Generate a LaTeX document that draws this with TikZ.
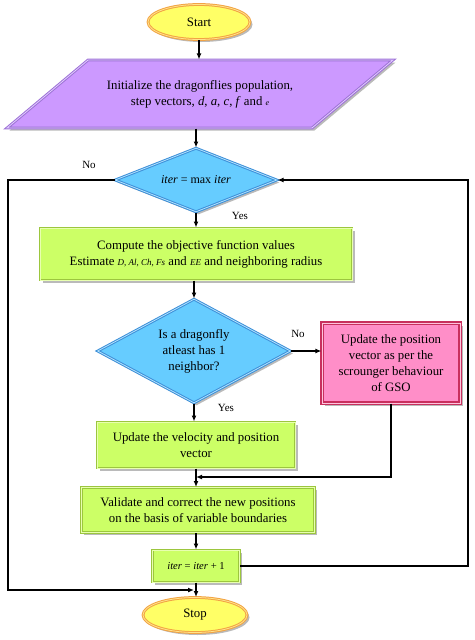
\documentclass[tikz,border=0pt]{standalone}
\usepackage{fontspec}
\setmainfont{Liberation Serif}
\usetikzlibrary{shapes.geometric,arrows.meta,shadows}

\definecolor{termfill}{HTML}{FFFF66}
\definecolor{termline}{HTML}{F2A343}
\definecolor{termlight}{HTML}{FFE38A}
\definecolor{datafill}{HTML}{CC99FF}
\definecolor{dataline}{HTML}{9D72D6}
\definecolor{datalight}{HTML}{E2CCFF}
\definecolor{decfill}{HTML}{66CCFF}
\definecolor{decline}{HTML}{3D8FD8}
\definecolor{declight}{HTML}{B0E2FF}
\definecolor{procfill}{HTML}{CCFF66}
\definecolor{procline}{HTML}{9CC63E}
\definecolor{proclight}{HTML}{E8FFB0}
\definecolor{gsofill}{HTML}{FF8EC8}
\definecolor{gsoline}{HTML}{C8305E}
\definecolor{gsolight}{HTML}{FFC4DE}

\begin{document}
\begin{tikzpicture}[x=1pt,y=-1pt,
  every node/.style={font=\fontsize{12.8}{16}\selectfont, align=center, text=black},
  dropsh/.style={drop shadow={shadow xshift=2.5pt,shadow yshift=-2.5pt,opacity=0.45,fill=black!60}},
  term/.style={ellipse, dropsh, draw=termline, double=termlight, double distance=0.8pt, line width=1pt, fill=termfill, minimum width=102pt, minimum height=35pt},
  data/.style={trapezium, trapezium left angle=23, trapezium right angle=157, trapezium stretches body, dropsh, draw=dataline, double=datalight, double distance=0.8pt, line width=1pt, fill=datafill},
  decide/.style={diamond, aspect=1.85, inner sep=1pt, dropsh, draw=decline, double=declight, double distance=0.8pt, line width=1pt, fill=decfill},
  proc/.style={rectangle, dropsh, draw=procline, double=proclight, double distance=0.8pt, line width=1pt, fill=procfill},
  gso/.style={rectangle, dropsh, draw=gsoline, double=gsolight, double distance=0.8pt, line width=1.2pt, fill=gsofill},
  lbl/.style={font=\fontsize{11}{13}\selectfont},
  arr/.style={-{Latex[length=6pt,width=5pt]}, line width=1.6pt}]
\useasboundingbox (0,0) rectangle (474,640);

% shapes
\node[term] (start) at (199,22) {Start};
\node[data, minimum width=386pt, minimum height=68pt] (init) at (200,94)
  {Initialize the dragonflies population,\\
   step vectors,\ \textit{d}, \textit{a}, \textit{c}, \textit{f} and {\footnotesize\textit{e}}};
\node[decide, minimum width=162pt, minimum height=64pt, font=\fontsize{12}{14}\selectfont] (maxit) at (196,180)
  {\textit{iter} = max\ \textit{iter}};
\node[proc, minimum width=312pt, minimum height=52pt] (comp) at (196,254)
  {Compute the objective function values\\
   Estimate\ {\small\textit{D, Al, Ch, Fs}} and\ {\small\textit{EE}} and neighboring radius};
\node[decide, minimum width=193pt, minimum height=104pt] (nbr) at (194,351)
  {Is a dragonfly\\ atleast has 1\\ neighbor?};
\node[gso, minimum width=138pt, minimum height=80pt] (scr) at (391,363)
  {Update the position\\ vector as per the\\ scrounger behaviour\\ of GSO};
\node[proc, minimum width=198pt, minimum height=46pt] (upd) at (196,445)
  {Update the velocity and position\\ vector};
\node[proc, minimum width=233pt, minimum height=45pt] (valid) at (198,510)
  {Validate and correct the new positions\\ on the basis of variable boundaries};
\node[proc, minimum width=87pt, minimum height=32pt, font=\fontsize{10.6}{12}\selectfont] (inc) at (196,566)
  {\textit{iter} = \textit{iter} + 1};
\node[term, minimum width=104pt] (stop) at (195,615) {Stop};

% labels
\node[lbl] (no1) at (89,165) {No};
\node[lbl] (yes1) at (240,216) {Yes};
\node[lbl] (no2) at (298,334) {No};
\node[lbl] (yes2) at (226,408) {Yes};

% joints
\coordinate (j1) at (196,477);
\coordinate (j2) at (194,590);
\coordinate (lft) at (8,590);
\coordinate (rgt) at (468,180);

% connectors
\draw[arr] (start.south) -- (start.south |- init.north);
\draw[arr] (maxit.north |- init.south) -- (maxit.north);
\draw[arr] (maxit.south) -- (comp.north);
\draw[arr] (comp.south -| nbr.north) -- (nbr.north);
\draw[arr] (nbr.east) -- (nbr.east -| scr.west);
\draw[arr] (nbr.south) -- (nbr.south |- upd.north);
\draw[arr] (upd.south) -- (upd.south |- valid.north);
\draw[arr] (scr.south) |- (j1);
\draw[arr] (inc.north |- valid.south) -- (inc.north);
\draw[arr] (inc.south) -- (inc.south |- stop.north);
\draw[arr] (maxit.west) -| (lft) -- (j2);
\draw[arr] (inc.east) -| (rgt) -- (maxit.east);
\end{tikzpicture}
\end{document}
